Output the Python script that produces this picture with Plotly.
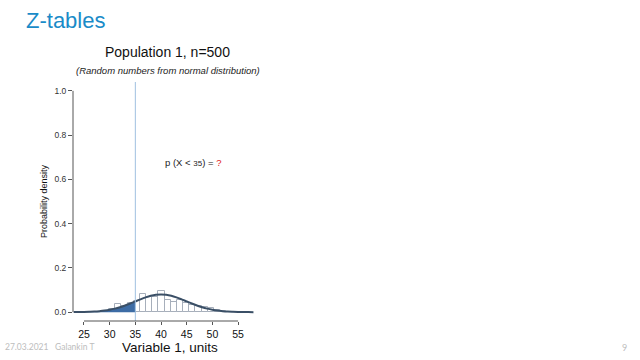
import plotly.graph_objects as go

# Histogram bins (centers, heights)
bin_centers = [30.5, 31.7, 32.9, 34.1, 35.3, 36.5, 37.7, 38.9, 40.1, 41.3, 42.5, 43.7,
               44.9, 46.1, 47.3, 48.5, 49.7, 50.9, 52.1]
bin_heights = [0.012, 0.038, 0.028, 0.040, 0.050, 0.080, 0.068, 0.070, 0.094, 0.056, 0.048,
               0.056, 0.042, 0.033, 0.029, 0.022, 0.017, 0.011, 0.007]
bin_width = 1.2

# Density curve points
curve_x = [23, 24, 25, 26, 27, 28, 29, 30, 31, 32, 33, 34, 35, 36, 37, 38, 39, 40,
           41, 42, 43, 44, 45, 46, 47, 48, 49, 50, 51, 52, 53, 54, 55, 56, 57, 58]
curve_y = [0.0003, 0.0005, 0.0009, 0.0016, 0.0027, 0.0045, 0.0071, 0.0108, 0.0158,
           0.0222, 0.0299, 0.0389, 0.0484, 0.0579, 0.0666, 0.0737, 0.0782, 0.0798,
           0.0782, 0.0737, 0.0666, 0.0579, 0.0484, 0.0389, 0.0299, 0.0222, 0.0158,
           0.0108, 0.0071, 0.0045, 0.0027, 0.0016, 0.0009, 0.0005, 0.0003, 0.0001]
cutoff = 35

x_ticks = [25, 30, 35, 40, 45, 50, 55]
y_ticks = [0.0, 0.2, 0.4, 0.6, 0.8, 1.0]
y_tick_labels = ["0.0", "0.2", "0.4", "0.6", "0.8", "1.0"]

fill_x = [x for x in curve_x if x <= cutoff]
fill_y = [y for x, y in zip(curve_x, curve_y) if x <= cutoff]

fig = go.Figure()
fig.add_trace(go.Scatter(x=fill_x, y=fill_y, mode="lines", fill="tozeroy",
                         line=dict(color="rgba(0,0,0,0)", width=0, shape="spline"),
                         fillcolor="#3d6ca5", hoverinfo="skip"))
fig.add_trace(go.Bar(x=bin_centers, y=bin_heights, width=bin_width,
                     marker=dict(color="rgba(255,255,255,0)",
                                 line=dict(color="#a7afbb", width=1))))
fig.add_trace(go.Scatter(x=curve_x, y=curve_y, mode="lines",
                         line=dict(color="#3a4f66", width=2, shape="spline")))

# cutoff line
fig.add_shape(type="line", xref="x", yref="paper", x0=cutoff, x1=cutoff, y0=0, y1=1,
              line=dict(color="#9fc0e0", width=1))
# R-style axis lines
fig.add_shape(type="line", xref="paper", yref="y", x0=0, x1=0, y0=0, y1=1,
              line=dict(color="#555", width=1))
fig.add_shape(type="line", xref="x", yref="paper", x0=25, x1=55, y0=0, y1=0,
              line=dict(color="#555", width=1))

font = "Liberation Sans, Arial, sans-serif"
L, R, T, B = 73, 255, 82, 321
def px(x):
    return (x - L) / (R - L)
def py(y):
    return (B - y) / (B - T)

annotations = [
    dict(text="Z-tables", x=px(24), y=py(20), xanchor="left", yanchor="middle",
         font=dict(family=font, size=22, color="#1a8bc8")),
    dict(text="Population 1, n=500", x=px(167), y=py(52), xanchor="center", yanchor="middle",
         font=dict(family=font, size=14, color="#111")),
    dict(text="<i>(Random numbers from normal distribution)</i>", x=px(168), y=py(70),
         xanchor="center", yanchor="middle", font=dict(family=font, size=9.5, color="#222")),
    dict(text="p (X < <span style='font-size:8px'>35</span>) = <span style='color:#e0201a'>?</span>",
         x=px(163), y=py(162), xanchor="left", yanchor="middle",
         font=dict(family=font, size=9.5, color="#222")),
    dict(text="Variable 1, units", x=px(170), y=py(347), xanchor="center", yanchor="middle",
         font=dict(family=font, size=13.5, color="#111")),
    dict(text="27.03.2021   Galankin T", x=px(3), y=py(347), xanchor="left", yanchor="middle",
         font=dict(family="Lato, sans-serif", size=8.5, color="#bdbdbd")),
    dict(text="9", x=px(624), y=py(347), xanchor="center", yanchor="middle",
         font=dict(family="Lato, sans-serif", size=9, color="#bdbdbd")),
]
for a in annotations:
    a.update(xref="paper", yref="paper", showarrow=False)

fig.update_layout(
    width=640, height=360,
    margin=dict(l=L, r=640 - R, t=T, b=360 - B, autoexpand=False),
    paper_bgcolor="white", plot_bgcolor="white",
    showlegend=False, bargap=0,
    annotations=annotations,
    font=dict(family=font),
    xaxis=dict(range=[22.86, 58.3], showgrid=False, zeroline=False, showline=False,
               automargin=False,
               tickvals=x_ticks, ticks="outside", ticklen=3, tickcolor="#555",
               tickfont=dict(size=10.5, color="#111")),
    yaxis=dict(range=[-0.04, 1.04], showgrid=False, zeroline=False, showline=False,
               automargin=False,
               tickvals=y_ticks, ticktext=y_tick_labels, ticks="outside", ticklen=4,
               tickcolor="#555", tickfont=dict(size=8.5, color="#333"),
               title=dict(text="Probability density", font=dict(size=9, color="#111"), standoff=5)),
)

fig.write_html("out.html", config={"displayModeBar": False},
               post_script="document.body.style.margin='0';")
